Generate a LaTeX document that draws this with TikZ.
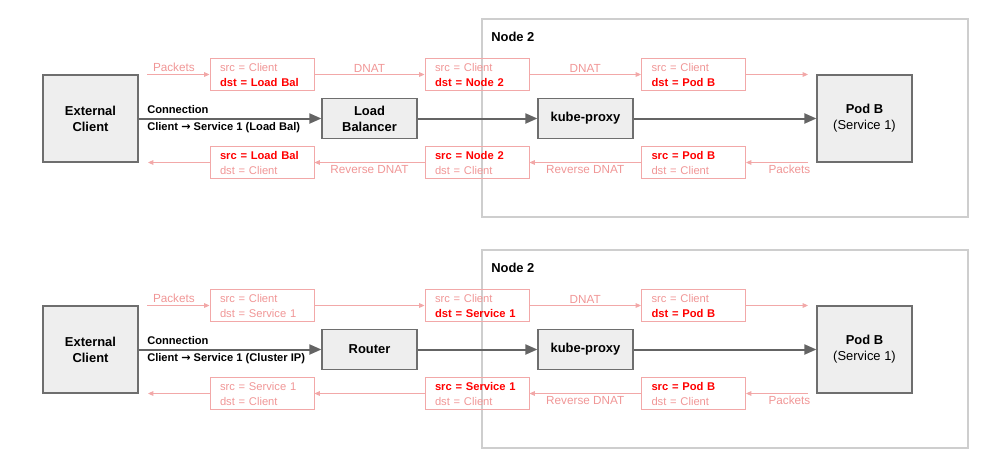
\documentclass[tikz,border=0pt]{standalone}
\usepackage{fontspec}
\setmainfont{Liberation Sans}
\newfontfamily\arrfont{DejaVu Sans}
\usetikzlibrary{arrows.meta}
\definecolor{pk}{RGB}{240,150,150}
\definecolor{pkline}{RGB}{242,168,168}
\definecolor{hlred}{RGB}{255,0,0}
\definecolor{boxfill}{RGB}{238,238,238}
\definecolor{boxdraw}{RGB}{110,110,110}
\definecolor{nodegray}{RGB}{206,206,206}
\definecolor{mainarrow}{RGB}{100,100,100}
\newcommand{\fd}[1]{\textcolor{pk}{#1}}
\newcommand{\hl}[1]{\textcolor{hlred}{\bfseries #1}}
\newcommand{\rarr}{{\arrfont\bfseries →}}
\begin{document}
\begin{tikzpicture}[x=0.75pt,y=-0.75pt,
  bignode/.style={draw=boxdraw,fill=boxfill,line width=0.9pt,minimum width=71.25pt,minimum height=65.25pt,align=center,inner sep=0pt,font=\fontsize{9.7}{12}\selectfont},
  midnode/.style={bignode,minimum height=30pt},
  pbox/.style={draw=pkline,line width=0.75pt,text width=63pt,inner xsep=7.5pt,inner ysep=0pt,minimum height=24pt,align=left,font=\fontsize{8.4}{11.25}\selectfont},
  nodearea/.style={draw=nodegray,line width=0.8pt},
  mainarr/.style={draw=mainarrow,line width=1.5pt,-{Triangle[length=9pt,width=7.5pt]}},
  pkarr/.style={draw=pkline,line width=0.75pt,-{Triangle[length=4pt,width=3.5pt]}},
  pklab/.style={text=pk,font=\fontsize{8.8}{10}\selectfont,inner sep=1.5pt},
  conlab/.style={font=\fontsize{8.35}{10}\selectfont\bfseries,anchor=west,inner sep=0pt},
  arealab/.style={font=\fontsize{9.7}{12}\selectfont\bfseries,anchor=west,inner sep=0pt}
]
\useasboundingbox (0,0) rectangle (1008,471);

% ================= Top diagram =================
\draw[nodearea] (482,19) rectangle (968,217);
\node[arealab] (an1) at (491,37) {Node 2};

\node[bignode] (ec1) at (90.5,118.5) {\bfseries External\\\bfseries Client};
\node[midnode] (lb1) at (369.5,118.5) {\bfseries Load\\\bfseries Balancer};
\node[midnode] (kp1) at (585.5,118.5) {\bfseries kube-proxy};
\node[bignode] (pb1) at (864.5,118.5) {\bfseries Pod B\\(Service 1)};

\draw[mainarr] (ec1.east) -- (lb1.west);
\draw[mainarr] (lb1.east) -- (kp1.west);
\draw[mainarr] (kp1.east) -- (pb1.west);
\node[conlab] (cl1a) at (147,110) {Connection};
\node[conlab] (cl1b) at (147,128) {Client \rarr{} Service 1 (Load Bal)};

\node[pbox] (t11) at (262,74.5) {\fd{src = Client}\\\hl{dst = Load Bal}};
\node[pbox] (t12) at (477,74.5) {\fd{src = Client}\\\hl{dst = Node 2}};
\node[pbox] (t13) at (693.5,74.5) {\fd{src = Client}\\\hl{dst = Pod B}};
\node[pbox] (b11) at (262,162.5) {\hl{src = Load Bal}\\\fd{dst = Client}};
\node[pbox] (b12) at (477,162.5) {\hl{src = Node 2}\\\fd{dst = Client}};
\node[pbox] (b13) at (693.5,162.5) {\hl{src = Pod B}\\\fd{dst = Client}};

\coordinate (ts1) at (147,74.5);
\coordinate (te1) at (808,74.5);
\coordinate (bs1) at (148,162.5);
\coordinate (be1) at (808,162.5);

\draw[pkarr] (ts1) -- node[pklab,above,pos=0.43] {Packets} (t11.west);
\draw[pkarr] (t11.east) -- node[pklab,above] {DNAT} (t12.west);
\draw[pkarr] (t12.east) -- node[pklab,above] {DNAT} (t13.west);
\draw[pkarr] (t13.east) -- (te1);
\draw[pkarr] (b11.west) -- (bs1);
\draw[pkarr] (b12.west) -- node[pklab,below] {Reverse DNAT} (b11.east);
\draw[pkarr] (b13.west) -- node[pklab,below] {Reverse DNAT} (b12.east);
\draw[pkarr] (be1) -- node[pklab,below,pos=0.3] {Packets} (b13.east);

% ================= Bottom diagram =================
\draw[nodearea] (482,250) rectangle (968,448);
\node[arealab] (an2) at (491,268) {Node 2};

\node[bignode] (ec2) at (90.5,349.5) {\bfseries External\\\bfseries Client};
\node[midnode] (rt2) at (369.5,349.5) {\bfseries Router};
\node[midnode] (kp2) at (585.5,349.5) {\bfseries kube-proxy};
\node[bignode] (pb2) at (864.5,349.5) {\bfseries Pod B\\(Service 1)};

\draw[mainarr] (ec2.east) -- (rt2.west);
\draw[mainarr] (rt2.east) -- (kp2.west);
\draw[mainarr] (kp2.east) -- (pb2.west);
\node[conlab] (cl2a) at (147,341) {Connection};
\node[conlab] (cl2b) at (147,359) {Client \rarr{} Service 1 (Cluster IP)};

\node[pbox] (t21) at (262,305.5) {\fd{src = Client}\\\fd{dst = Service 1}};
\node[pbox] (t22) at (477,305.5) {\fd{src = Client}\\\hl{dst = Service 1}};
\node[pbox] (t23) at (693.5,305.5) {\fd{src = Client}\\\hl{dst = Pod B}};
\node[pbox] (b21) at (262,393.5) {\fd{src = Service 1}\\\fd{dst = Client}};
\node[pbox] (b22) at (477,393.5) {\hl{src = Service 1}\\\fd{dst = Client}};
\node[pbox] (b23) at (693.5,393.5) {\hl{src = Pod B}\\\fd{dst = Client}};

\coordinate (ts2) at (147,305.5);
\coordinate (te2) at (808,305.5);
\coordinate (bs2) at (148,393.5);
\coordinate (be2) at (808,393.5);

\draw[pkarr] (ts2) -- node[pklab,above,pos=0.43] {Packets} (t21.west);
\draw[pkarr] (t21.east) -- (t22.west);
\draw[pkarr] (t22.east) -- node[pklab,above] {DNAT} (t23.west);
\draw[pkarr] (t23.east) -- (te2);
\draw[pkarr] (b21.west) -- (bs2);
\draw[pkarr] (b22.west) -- (b21.east);
\draw[pkarr] (b23.west) -- node[pklab,below] {Reverse DNAT} (b22.east);
\draw[pkarr] (be2) -- node[pklab,below,pos=0.3] {Packets} (b23.east);
\end{tikzpicture}
\end{document}
